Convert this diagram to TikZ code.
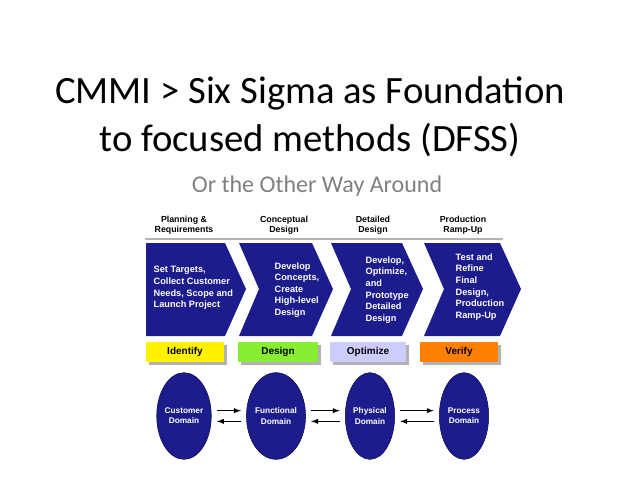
\documentclass[tikz,border=0pt]{standalone}
\usepackage{fontspec}
\setmainfont{Carlito}
\newfontfamily\arial{Liberation Sans}
\usetikzlibrary{shapes.geometric}
\definecolor{chev}{HTML}{1C1C8C}
\definecolor{chevdark}{HTML}{0A0A50}
\definecolor{lime1}{HTML}{88EE33}
\tikzset{
  px/.style={x=0.75pt,y=-0.75pt},
  head/.style={font=\arial\bfseries\fontsize{6.6}{7.6}\selectfont, align=center},
  chtxt/.style={font=\arial\bfseries\fontsize{6.9}{8.7}\selectfont, text=white, align=left},
  tag/.style={draw=none, minimum height=15pt, font=\arial\bfseries\fontsize{7.5}{9}\selectfont},
  dom/.style={ellipse, draw=chevdark, fill=chev, minimum width=37pt, minimum height=65pt, inner sep=0pt, align=center, text=white, font=\arial\bfseries\fontsize{6.2}{7.6}\selectfont},
  arr/.style={-latex, thick}
}
\begin{document}
\begin{tikzpicture}[px]
\useasboundingbox (0,0) rectangle (638,478);
% titles
\node (t1) at (310,93) {\fontsize{29}{34}\selectfont CMMI > Six Sigma as Foundation};
\node (t2) at (310,140) {\fontsize{29}{34}\selectfont to focused methods (DFSS)};
\node[text=gray] (t3) at (317,186) {\fontsize{18}{22}\selectfont Or the Other Way Around};
% headers
\node[head] (h1) at (184,225) {Planning \&\\Requirements};
\node[head] (h2) at (284,225) {Conceptual\\Design};
\node[head] (h3) at (373,225) {Detailed\\Design};
\node[head] (h4) at (463,225) {Production\\Ramp-Up};
\draw[gray!60, line width=1pt] (145,239) -- (503,239);
% chevrons
\fill[chev] (146,243) -- (225,243) -- (246,289) -- (225,336) -- (146,336) -- cycle;
\fill[chev] (239,243) -- (312,243) -- (333,289) -- (312,336) -- (239,336) -- (259,289) -- cycle;
\fill[chev] (331,243) -- (402,243) -- (423,289) -- (402,336) -- (331,336) -- (351,289) -- cycle;
\fill[chev] (424,243) -- (500,243) -- (521,289) -- (500,336) -- (424,336) -- (444,289) -- cycle;
\node[chtxt, anchor=west] (c1) at (149,288) {Set Targets,\\Collect Customer\\Needs, Scope and\\Launch Project};
\node[chtxt, anchor=west] (c2) at (270,290) {Develop\\Concepts,\\Create\\High-level\\Design};
\node[chtxt, anchor=west] (c3) at (361,290) {Develop,\\Optimize,\\and\\Prototype\\Detailed\\Design};
\node[chtxt, anchor=west] (c4) at (451,287) {Test and\\Refine\\Final\\Design,\\Production\\Ramp-Up};
% phase tags
\foreach \x/\w/\c/\t/\n in {185/78/yellow/Identify/b1, 278/80/lime1/Design/b2, 368/76/{blue!20}/Optimize/b3, 459/78/{orange}/Verify/b4}{
  \fill[gray!60] (\x-\w/2+3,345) rectangle (\x+\w/2+3,365);
  \node[tag, fill=\c, minimum width=\w*0.75pt] (\n) at (\x,352) {\t};
}
% domains
\node[dom] (d1) at (184,416) {Customer\\Domain};
\node[dom] (d2) at (276,416) {Functional\\Domain};
\node[dom] (d3) at (370,416) {Physical\\Domain};
\node[dom] (d4) at (464,416) {Process\\Domain};
\foreach \a/\b in {d1/d2, d2/d3, d3/d4}{
  \draw[arr] ([xshift=4pt,yshift=4pt]\a.east) -- ([xshift=-4pt,yshift=4pt]\b.west);
  \draw[arr] ([xshift=-4pt,yshift=-4pt]\b.west) -- ([xshift=4pt,yshift=-4pt]\a.east);
}
\end{tikzpicture}
\end{document}
